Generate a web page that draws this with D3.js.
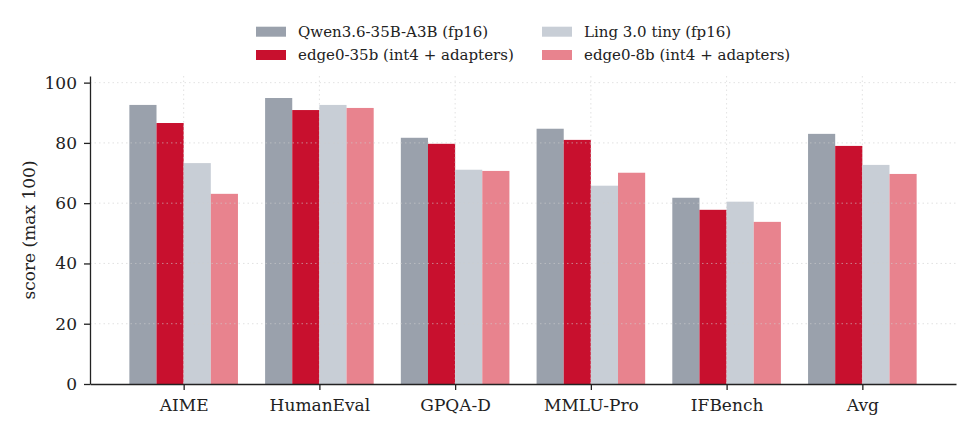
<!DOCTYPE html>
<html>
<head>
<meta charset="utf-8">
<script src="https://cdn.jsdelivr.net/npm/d3@7/dist/d3.min.js"></script>
<style>
  body { margin: 0; background: #fff; }
  svg { display: block; font-family: "DejaVu Serif", serif; }
</style>
</head>
<body>
<svg></svg>
<script>
// benchmark scores
let categories = ["AIME", "HumanEval", "GPQA-D", "MMLU-Pro", "IFBench", "Avg"];
let seriesNames = ["Qwen3.6-35B-A3B (fp16)", "edge0-35b (int4 + adapters)", "Ling 3.0 tiny (fp16)", "edge0-8b (int4 + adapters)"];
let qwenScores  = [92.6, 94.9, 81.7, 84.7, 61.8, 83.0];
let edge35Scores = [86.6, 90.9, 79.7, 81.0, 57.8, 79.0];
let lingScores  = [73.3, 92.6, 71.1, 65.8, 60.5, 72.7];
let edge8Scores = [63.1, 91.6, 70.7, 70.1, 53.8, 69.7];
let yTicks = [0, 20, 40, 60, 80, 100];

let colors = ["#9aa1ac", "#c8102e", "#c8ced6", "#e8838e"];
let allSeries = [qwenScores, edge35Scores, lingScores, edge8Scores];

let width = 968;
let height = 430;
let margin = {top: 76, right: 12, bottom: 46, left: 90};

let svg = d3.select("svg")
            .attr("width", width)
            .attr("height", height);

// x positions as in a numeric 0..5 axis with group width 0.8
let xScale = d3.scaleLinear()
               .domain([-0.69, categories.length - 1 + 0.69])
               .range([margin.left, width - margin.right]);

let yScale = d3.scaleLinear()
               .domain([0, 102.2])
               .range([height - margin.bottom, margin.top]);

let barW = 0.2;

// bars
allSeries.forEach((vals, s) => {
  svg.append("g")
     .selectAll("rect")
     .data(vals)
     .enter()
     .append("rect")
     .attr("x", (d, i) => xScale(i - 0.4 + s * barW))
     .attr("width", xScale(barW) - xScale(0))
     .attr("y", d => yScale(d))
     .attr("height", d => yScale(0) - yScale(d))
     .attr("fill", colors[s]);
});

// dotted grid on top of bars
let grid = svg.append("g")
              .attr("stroke", "#cfcfcf")
              .attr("stroke-opacity", 0.6)
              .attr("stroke-width", 1)
              .attr("stroke-dasharray", "1.5,3");
yTicks.forEach(t => {
  if (t === 0) return;
  grid.append("line")
      .attr("x1", margin.left).attr("x2", width - margin.right)
      .attr("y1", yScale(t)).attr("y2", yScale(t));
});
categories.forEach((c, i) => {
  grid.append("line")
      .attr("x1", xScale(i)).attr("x2", xScale(i))
      .attr("y1", margin.top).attr("y2", height - margin.bottom);
});

// axes
let xAxis = d3.axisBottom(xScale)
              .tickValues(d3.range(categories.length))
              .tickFormat(i => categories[i])
              .tickSize(6)
              .tickPadding(9)
              .tickSizeOuter(0);
let gx = svg.append("g")
            .attr("transform", "translate(0," + (height - margin.bottom) + ")")
            .call(xAxis);

let yAxis = d3.axisLeft(yScale)
              .tickValues(yTicks)
              .tickSize(6)
              .tickPadding(7)
              .tickSizeOuter(0);
let gy = svg.append("g")
            .attr("transform", "translate(" + margin.left + ",0)")
            .call(yAxis);

[gx, gy].forEach(g => {
  g.attr("font-family", "DejaVu Serif, serif")
   .attr("font-size", 17);
  g.selectAll("path, line").attr("stroke", "#222").attr("stroke-width", 1.3);
  g.selectAll("text").attr("fill", "#222");
});

svg.append("text")
   .attr("transform", "translate(29," + ((margin.top + height - margin.bottom) / 2) + ") rotate(-90)")
   .attr("text-anchor", "middle")
   .attr("dominant-baseline", "central")
   .attr("font-size", 17)
   .attr("fill", "#222")
   .text("score (max 100)");

// legend, two columns
let legendPos = [[256, 31.7], [256, 55], [542, 31.7], [542, 55]];
let legend = svg.append("g");
seriesNames.forEach((name, s) => {
  let p = legendPos[s];
  legend.append("rect")
        .attr("x", p[0]).attr("y", p[1] - 5)
        .attr("width", 30).attr("height", 10)
        .attr("fill", colors[s]);
  legend.append("text")
        .attr("x", p[0] + 42).attr("y", p[1])
        .attr("dominant-baseline", "central")
        .attr("font-size", 15)
        .attr("fill", "#222")
        .text(name);
});
</script>
</body>
</html>
